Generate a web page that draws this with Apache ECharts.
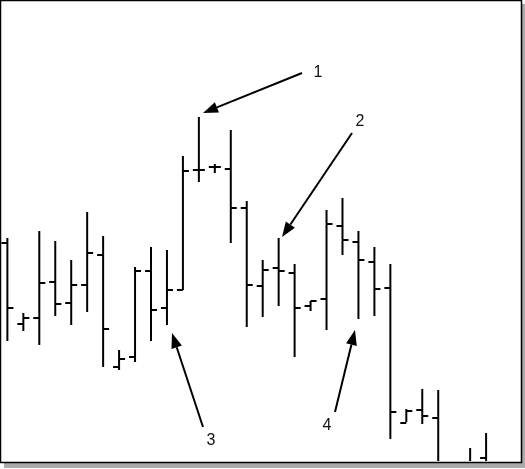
<!DOCTYPE html>
<html><head><meta charset="utf-8">
<script src="https://cdn.jsdelivr.net/npm/echarts@6/dist/echarts.min.js"></script>
<style>html,body{margin:0;padding:0;background:#fff}#c{width:525px;height:469px}</style>
</head><body><div id="c"></div>
<script>
const opens  = [218,137,143,179,158,176,206,94,104,190,153,171,291,294,292,253,175,193,188,155,162,235,219,199,173,38,51,43,null,-15,3];
const highs  = [223,148,230,220,201,249,225,111,194,214,211,305,344,297,331,260,201,223,197,160,251,263,230,214,197,52,72,71,null,13,28];
const lows   = [120,130,116,145,136,149,94,91,99,120,136,171,279,288,218,134,144,155,104,150,131,206,142,145,22,39,37,-20,null,-30,-20];
const closes = [153,143,178,157,176,208,132,102,190,151,171,290,291,294,253,176,191,190,153,160,237,221,201,172,49,50,45,-10,null,-20,-10];
const labels = ['1','2','3','4'];

const data = [];
opens.forEach((o,i)=>{ if(o!==null) data.push([i,opens[i],highs[i],lows[i],closes[i]]); });

const chart = echarts.init(document.getElementById('c'));
function arrow(x1,y1,x2,y2){
  const dx=x2-x1, dy=y2-y1, L=Math.hypot(dx,dy), ux=dx/L, uy=dy/L;
  const hl=15, hw=5.5;
  const bx=x2-ux*hl, by=y2-uy*hl;
  return [
    {type:'line',shape:{x1:x1,y1:y1,x2:bx,y2:by},style:{stroke:'#000',lineWidth:2}},
    {type:'polygon',shape:{points:[[x2,y2],[bx-uy*hw,by+ux*hw],[bx+uy*hw,by-ux*hw]]},style:{fill:'#000'}}
  ];
}
const txt=(t,x,y)=>({type:'text',x:x,y:y,style:{text:t,font:'16px Arial',fill:'#111',textAlign:'center',textVerticalAlign:'middle'}});
chart.setOption({
  animation:false,
  grid:{left:1,right:3,top:1,bottom:8},
  xAxis:{type:'value',min:-0.4,max:32.25,show:false},
  yAxis:{type:'value',min:0,max:460,show:false},
  series:[{
    type:'custom',clip:true,
    renderItem:function(params,api){
      const x=api.value(0);
      const pO=api.coord([x,api.value(1)]), pH=api.coord([x,api.value(2)]),
            pL=api.coord([x,api.value(3)]), pC=api.coord([x,api.value(4)]);
      const st={stroke:'#000',lineWidth:2};
      return {type:'group',children:[
        {type:'line',shape:{x1:pH[0],y1:pH[1],x2:pL[0],y2:pL[1]},style:st},
        {type:'line',shape:{x1:pO[0]-6,y1:pO[1],x2:pO[0],y2:pO[1]},style:st},
        {type:'line',shape:{x1:pC[0],y1:pC[1],x2:pC[0]+6,y2:pC[1]},style:st}
      ]};
    },
    data:data
  }],
  graphic:[
    {type:'rect',shape:{x:4,y:463,width:521,height:5},style:{fill:'#aaa'}},
    {type:'rect',shape:{x:521,y:4,width:4,height:464},style:{fill:'#aaa'}},
    {type:'rect',shape:{x:0.5,y:0.5,width:521,height:462},style:{fill:'none',stroke:'#000',lineWidth:1.5}},
    ...arrow(302,73,203,113), txt(labels[0],318,73),
    ...arrow(352,133,282,237), txt(labels[1],360,122),
    ...arrow(203,427,172,333), txt(labels[2],211,441),
    ...arrow(335,412,355,330), txt(labels[3],327,426)
  ]
});
</script></body></html>
